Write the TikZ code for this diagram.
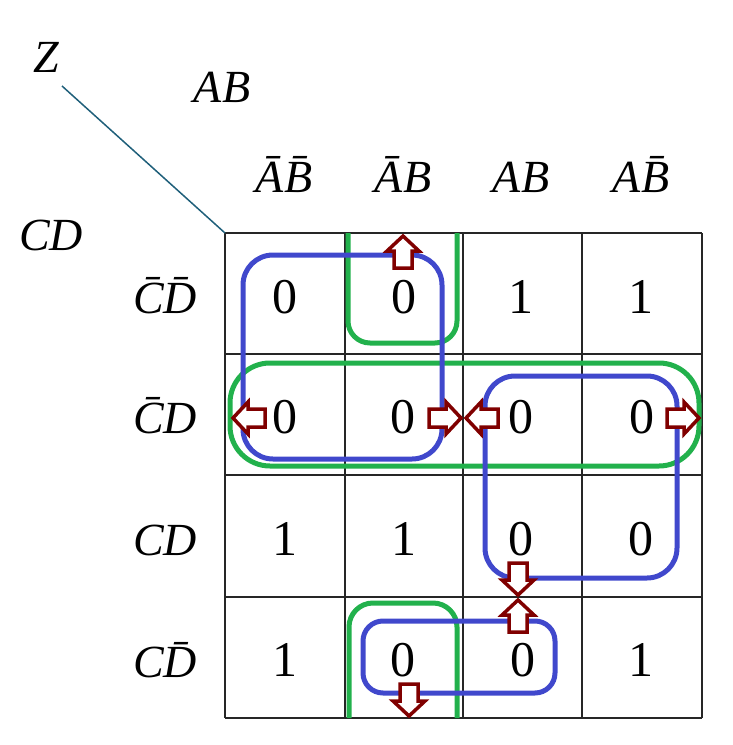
\documentclass[tikz,border=0pt]{standalone}
\usepackage{fontspec}
\setmainfont{Liberation Serif}
\definecolor{kblue}{RGB}{64,72,204}
\definecolor{kgreen}{RGB}{34,177,76}
\definecolor{kred}{RGB}{128,0,0}
\definecolor{kteal}{RGB}{31,95,122}
\tikzset{
  gridline/.style={line width=1.3pt, black!85},
  bluel/.style={draw=kblue, line width=5pt},
  greenl/.style={draw=kgreen, line width=5pt},
  arrowst/.style={draw=kred, fill=white, line width=3.5pt, line join=miter},
  digit/.style={anchor=base, inner sep=0pt, font=\fontsize{50}{60}\selectfont},
  lab/.style={anchor=base, inner sep=0pt, font=\fontsize{46}{54}\selectfont\itshape}
}
\newcommand{\karrow}[3]{\begin{scope}[shift={(#1,#2)},rotate=#3]
  \draw[arrowst] (0,0) -- (-15,16) -- (-15,9) -- (-32,9) -- (-32,-9) -- (-15,-9) -- (-15,-16) -- cycle;
\end{scope}}
\begin{document}
\begin{tikzpicture}[x=1pt,y=-1pt]
\useasboundingbox (0,0) rectangle (732,745);
% grid
\foreach \gx in {225,345,463,582,702} \draw[gridline] (\gx,233) -- (\gx,718);
\foreach \gy in {233,354,475,597,718} \draw[gridline] (225,\gy) -- (702,\gy);
% corner labels
\node[lab] (z) at (46,72) {Z};
\coordinate (zl) at (62,86);
\coordinate (corner) at (225,233);
\draw[kteal, line width=1.5pt] (zl) -- (corner);
\node[lab] (ab) at (222,102) {AB};
\node[lab] (cd) at (51,250) {CD};
% column headers
\node[lab] (h1) at (284,192) {\=A\=B};
\node[lab] (h2) at (403,192) {\=AB};
\node[lab] (h3) at (521,192) {AB};
\node[lab] (h4) at (641,192) {A\=B};
% row headers
\node[lab] (r1) at (165,313) {\=C\=D};
\node[lab] (r2) at (165,433) {\=CD};
\node[lab] (r3) at (165,555) {CD};
\node[lab] (r4) at (165,677) {C\=D};
% cells
\node[digit] (c11) at (285,313) {0};
\node[digit] (c12) at (404,313) {0};
\node[digit] (c13) at (521,313) {1};
\node[digit] (c14) at (641,313) {1};
\node[digit] (c21) at (285,433) {0};
\node[digit] (c22) at (403,433) {0};
\node[digit] (c23) at (521,433) {0};
\node[digit] (c24) at (642,433) {0};
\node[digit] (c31) at (285,555) {1};
\node[digit] (c32) at (404,555) {1};
\node[digit] (c33) at (521,555) {0};
\node[digit] (c34) at (641,555) {0};
\node[digit] (c41) at (285,676) {1};
\node[digit] (c42) at (403,676) {0};
\node[digit] (c43) at (523,676) {0};
\node[digit] (c44) at (641,676) {1};
% loops
\draw[greenl, rounded corners=40] (230,363) rectangle (699,466);
\draw[greenl, rounded corners=22] (348,233) -- (348,343) -- (457,343) -- (457,233);
\draw[greenl, rounded corners=24] (349,718) -- (349,603) -- (457,603) -- (457,718);
\draw[bluel, rounded corners=30] (243,255) rectangle (442,459);
\draw[bluel, rounded corners=30] (485,376) rectangle (677,578);
\draw[bluel, rounded corners=20] (363,621) rectangle (555,693);
% arrows
\karrow{403}{236}{90}
\karrow{233}{418}{180}
\karrow{461}{418}{0}
\karrow{466}{418}{180}
\karrow{699}{418}{0}
\karrow{518}{595}{-90}
\karrow{518}{600}{90}
\karrow{409}{716}{-90}
\end{tikzpicture}
\end{document}
